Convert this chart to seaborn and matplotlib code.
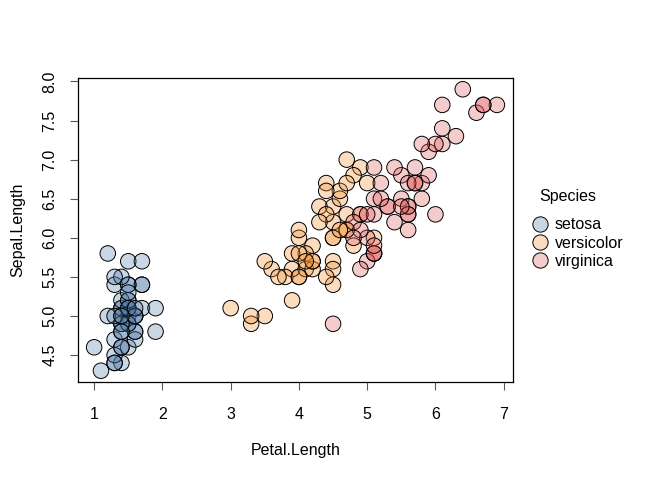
import numpy as np
import pandas as pd
import seaborn as sns
import matplotlib.pyplot as plt
from matplotlib.lines import Line2D

species_names = ["setosa", "versicolor", "virginica"]

# Fisher's iris, row order (50 per species)
sepal_length = [
    5.1, 4.9, 4.7, 4.6, 5.0, 5.4, 4.6, 5.0, 4.4, 4.9,
    5.4, 4.8, 4.8, 4.3, 5.8, 5.7, 5.4, 5.1, 5.7, 5.1,
    5.4, 5.1, 4.6, 5.1, 4.8, 5.0, 5.0, 5.2, 5.2, 4.7,
    4.8, 5.4, 5.2, 5.5, 4.9, 5.0, 5.5, 4.9, 4.4, 5.1,
    5.0, 4.5, 4.4, 5.0, 5.1, 4.8, 5.1, 4.6, 5.3, 5.0,
    7.0, 6.4, 6.9, 5.5, 6.5, 5.7, 6.3, 4.9, 6.6, 5.2,
    5.0, 5.9, 6.0, 6.1, 5.6, 6.7, 5.6, 5.8, 6.2, 5.6,
    5.9, 6.1, 6.3, 6.1, 6.4, 6.6, 6.8, 6.7, 6.0, 5.7,
    5.5, 5.5, 5.8, 6.0, 5.4, 6.0, 6.7, 6.3, 5.6, 5.5,
    5.5, 6.1, 5.8, 5.0, 5.6, 5.7, 5.7, 6.2, 5.1, 5.7,
    6.3, 5.8, 7.1, 6.3, 6.5, 7.6, 4.9, 7.3, 6.7, 7.2,
    6.5, 6.4, 6.8, 5.7, 5.8, 6.4, 6.5, 7.7, 7.7, 6.0,
    6.9, 5.6, 7.7, 6.3, 6.7, 7.2, 6.2, 6.1, 6.4, 7.2,
    7.4, 7.9, 6.4, 6.3, 6.1, 7.7, 6.3, 6.4, 6.0, 6.9,
    6.7, 6.9, 5.8, 6.8, 6.7, 6.7, 6.3, 6.5, 6.2, 5.9,
]
petal_length = [
    1.4, 1.4, 1.3, 1.5, 1.4, 1.7, 1.4, 1.5, 1.4, 1.5,
    1.5, 1.6, 1.4, 1.1, 1.2, 1.5, 1.3, 1.4, 1.7, 1.5,
    1.7, 1.5, 1.0, 1.7, 1.9, 1.6, 1.6, 1.5, 1.4, 1.6,
    1.6, 1.5, 1.5, 1.4, 1.5, 1.2, 1.3, 1.4, 1.3, 1.5,
    1.3, 1.3, 1.3, 1.6, 1.9, 1.4, 1.6, 1.4, 1.5, 1.4,
    4.7, 4.5, 4.9, 4.0, 4.6, 4.5, 4.7, 3.3, 4.6, 3.9,
    3.5, 4.2, 4.0, 4.7, 3.6, 4.4, 4.5, 4.1, 4.5, 3.9,
    4.8, 4.0, 4.9, 4.7, 4.3, 4.4, 4.8, 5.0, 4.5, 3.5,
    3.8, 3.7, 3.9, 5.1, 4.5, 4.5, 4.7, 4.4, 4.1, 4.0,
    4.4, 4.6, 4.0, 3.3, 4.2, 4.2, 4.2, 4.3, 3.0, 4.1,
    6.0, 5.1, 5.9, 5.6, 5.8, 6.6, 4.5, 6.3, 5.8, 6.1,
    5.1, 5.3, 5.5, 5.0, 5.1, 5.3, 5.5, 6.7, 6.9, 5.0,
    5.7, 4.9, 6.7, 4.9, 5.7, 6.0, 4.8, 4.9, 5.6, 5.8,
    6.1, 6.4, 5.6, 5.1, 5.6, 6.1, 5.6, 5.5, 4.8, 5.4,
    5.6, 5.1, 5.1, 5.9, 5.7, 5.2, 5.0, 5.2, 5.4, 5.1,
]
species = np.repeat(species_names, 50)

colors = ["#4E79A7", "#F28E2B", "#E15759"]
fill_alpha = 0.3

df = pd.DataFrame({
    "Petal.Length": petal_length,
    "Sepal.Length": sepal_length,
    "Species": species,
})

plt.rcParams["font.family"] = ["Liberation Sans", "DejaVu Sans"]
plt.rcParams["font.size"] = 11.5

fig = plt.figure(figsize=(6.72, 4.8), dpi=100)
ax = fig.add_axes([0.1161, 0.2042, 0.6473, 0.6333])

sns.scatterplot(
    data=df,
    x="Petal.Length",
    y="Sepal.Length",
    hue="Species",
    palette=colors,
    s=125,
    edgecolor="black",
    linewidth=0.7,
    legend=False,
    ax=ax,
)

# transparent fill, opaque outline
for coll in ax.collections:
    fc = coll.get_facecolors()
    fc[:, 3] = fill_alpha
    coll.set_facecolors(fc)

ax.set_xlim(0.764, 7.136)
ax.set_ylim(4.156, 8.044)
ax.set_xticks([1, 2, 3, 4, 5, 6, 7])
yt = np.arange(4.5, 8.01, 0.5)
ax.set_yticks(yt)
ax.set_yticklabels([f"{v:.1f}" for v in yt])
ax.tick_params(length=6, width=0.8, color="0.35")
ax.tick_params(axis="x", pad=12)
ax.tick_params(axis="y", pad=9)
for lab in ax.get_yticklabels():
    lab.set_rotation(90)
    lab.set_va("center")
for sp in ax.spines.values():
    sp.set_linewidth(0.9)
    sp.set_color("black")
ax.set_xlabel("Petal.Length", labelpad=15)
ax.set_ylabel("Sepal.Length", labelpad=12)

handles = [
    Line2D([], [], linestyle="", marker="o", markersize=11,
           markerfacecolor=(*plt.matplotlib.colors.to_rgb(c), fill_alpha),
           markeredgecolor="black", markeredgewidth=0.7)
    for c in colors
]
fig.text(0.845, 0.590, "Species", ha="center", va="center")
fig.legend(
    handles, species_names,
    loc="upper left", bbox_to_anchor=(0.792, 0.547),
    frameon=False, handlelength=1.0, handletextpad=0.4,
    labelspacing=0.2, borderaxespad=0, borderpad=0,
)

fig.savefig("out.png", dpi=100)
